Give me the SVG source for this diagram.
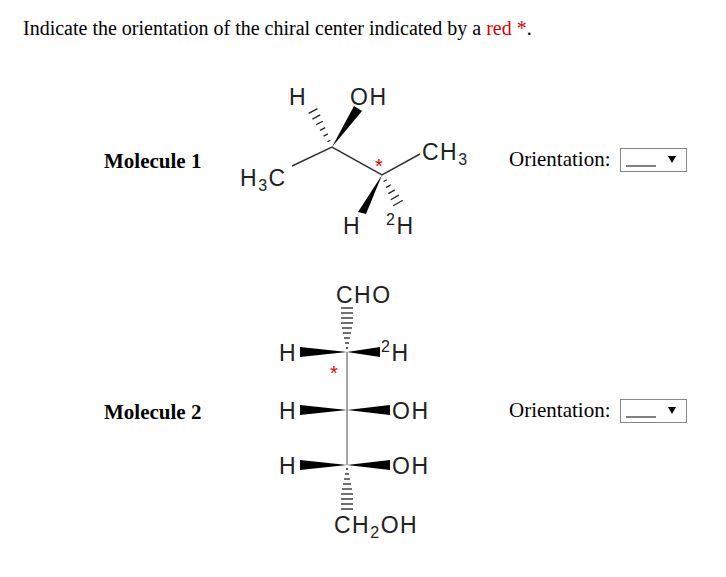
<svg xmlns="http://www.w3.org/2000/svg" width="726" height="577" viewBox="0 0 726 577">
<style>
.s{font-family:"Liberation Serif",serif;font-size:20px;fill:#000}
.b{font-family:"Liberation Serif",serif;font-size:21px;font-weight:bold}
.o{font-family:"Liberation Serif",serif;font-size:21px}
.a{font-family:"Liberation Sans",Arial,sans-serif;font-size:23px;letter-spacing:1.5px;fill:#222}
.sub{font-size:16px}
.ln{stroke:#333;stroke-width:1.5;fill:none}
.st{fill:#e00000;font-family:"Liberation Sans",sans-serif;font-size:20px}
</style>
<rect width="726" height="577" fill="#fff"/>
<text class="s" x="23" y="35">Indicate the orientation of the chiral center indicated by a <tspan fill="#e00000">red *</tspan>.</text>
<g id="labels">
<text class="b" x="104" y="168">Molecule 1</text>
<text class="b" x="104" y="419">Molecule 2</text>
<text class="o" x="509" y="166">Orientation:</text>
<text class="o" x="509" y="417">Orientation:</text>
</g>
<g id="dropdown1"><rect x="620.5" y="148.5" width="66" height="23" fill="#fff" stroke="#888"/><line x1="626" y1="166" x2="656" y2="166" stroke="#000"/><path d="M668 156h8l-4 7z" fill="#000"/></g>
<g id="dropdown2"><rect x="620.5" y="399.5" width="66" height="23" fill="#fff" stroke="#888"/><line x1="626" y1="417" x2="656" y2="417" stroke="#000"/><path d="M668 407h8l-4 7z" fill="#000"/></g>
<g id="molecule1">
<path class="ln" d="M292 166L332 147L382 175L420 154"/>
<path d="M332 147L354 106L362 111Z" fill="#000"/>
<g stroke="#222" stroke-width="1.3">
<line x1="327.4" y1="141.8" x2="330.4" y2="140.2"/><line x1="323.6" y1="136.1" x2="327.8" y2="133.9"/><line x1="320" y1="130.4" x2="325.2" y2="127.6"/><line x1="316.1" y1="124.8" x2="322.7" y2="121.2"/><line x1="312.4" y1="119.1" x2="320.2" y2="114.9"/><line x1="308.7" y1="113.4" x2="317.5" y2="108.6"/>
</g>
<path d="M382 175L358 212L366 214Z" fill="#000"/>
<g stroke="#222" stroke-width="1.3">
<line x1="383.6" y1="181.5" x2="386.9" y2="179.7"/><line x1="386" y1="187.6" x2="390.8" y2="184.8"/><line x1="388.4" y1="193.6" x2="394.8" y2="189.9"/><line x1="390.8" y1="199.7" x2="398.8" y2="195.1"/><line x1="393.2" y1="205.7" x2="402.8" y2="200.3"/>
</g>
<text class="a" x="289" y="105">H</text>
<text class="a" x="350" y="105">OH</text>
<text class="a" x="240" y="186">H<tspan class="sub" dy="5">3</tspan><tspan dy="-5">C</tspan></text>
<text class="a" x="422" y="160">CH<tspan class="sub" dy="5">3</tspan></text>
<text class="a" x="343" y="234">H</text>
<text class="a" x="386" y="234"><tspan class="sub" dy="-9">2</tspan><tspan dy="9">H</tspan></text>
<text class="st" x="375" y="173">*</text>
</g>
<g id="molecule2">
<line x1="347" y1="352" x2="347" y2="465" stroke="#888" stroke-width="1.5"/>
<g stroke="#222" stroke-width="1.3">
<line x1="346" y1="348" x2="348" y2="348"/><line x1="345" y1="343" x2="349" y2="343"/><line x1="344" y1="338" x2="350" y2="338"/><line x1="343" y1="333" x2="351" y2="333"/><line x1="342" y1="328" x2="352" y2="328"/><line x1="341" y1="323" x2="353" y2="323"/><line x1="341" y1="318" x2="353" y2="318"/><line x1="341" y1="313" x2="353" y2="313"/><line x1="341" y1="308" x2="353" y2="308"/>
<line x1="346" y1="469" x2="348" y2="469"/><line x1="345" y1="474" x2="349" y2="474"/><line x1="344" y1="479" x2="350" y2="479"/><line x1="343" y1="484" x2="351" y2="484"/><line x1="342" y1="489" x2="352" y2="489"/><line x1="341" y1="494" x2="353" y2="494"/><line x1="341" y1="499" x2="353" y2="499"/><line x1="341" y1="504" x2="353" y2="504"/><line x1="341" y1="509" x2="353" y2="509"/>
</g>
<g fill="#000">
<path d="M347 352L300 347L300 357Z"/><path d="M347 352L380 347L380 357Z"/>
<path d="M347 410L300 405L300 415Z"/><path d="M347 410L390 405L390 415Z"/>
<path d="M347 465L300 460L300 470Z"/><path d="M347 465L390 460L390 470Z"/>
</g>
<text class="a" x="336" y="303">CHO</text>
<text class="a" x="279" y="361">H</text>
<text class="a" x="381" y="361"><tspan class="sub" dy="-9">2</tspan><tspan dy="9">H</tspan></text>
<text class="a" x="279" y="419">H</text>
<text class="a" x="392" y="419">OH</text>
<text class="a" x="279" y="474">H</text>
<text class="a" x="392" y="474">OH</text>
<text class="a" x="334" y="533">CH<tspan class="sub" dy="5">2</tspan><tspan dy="-5">OH</tspan></text>
<text class="st" x="330" y="380">*</text>
</g>
</svg>
